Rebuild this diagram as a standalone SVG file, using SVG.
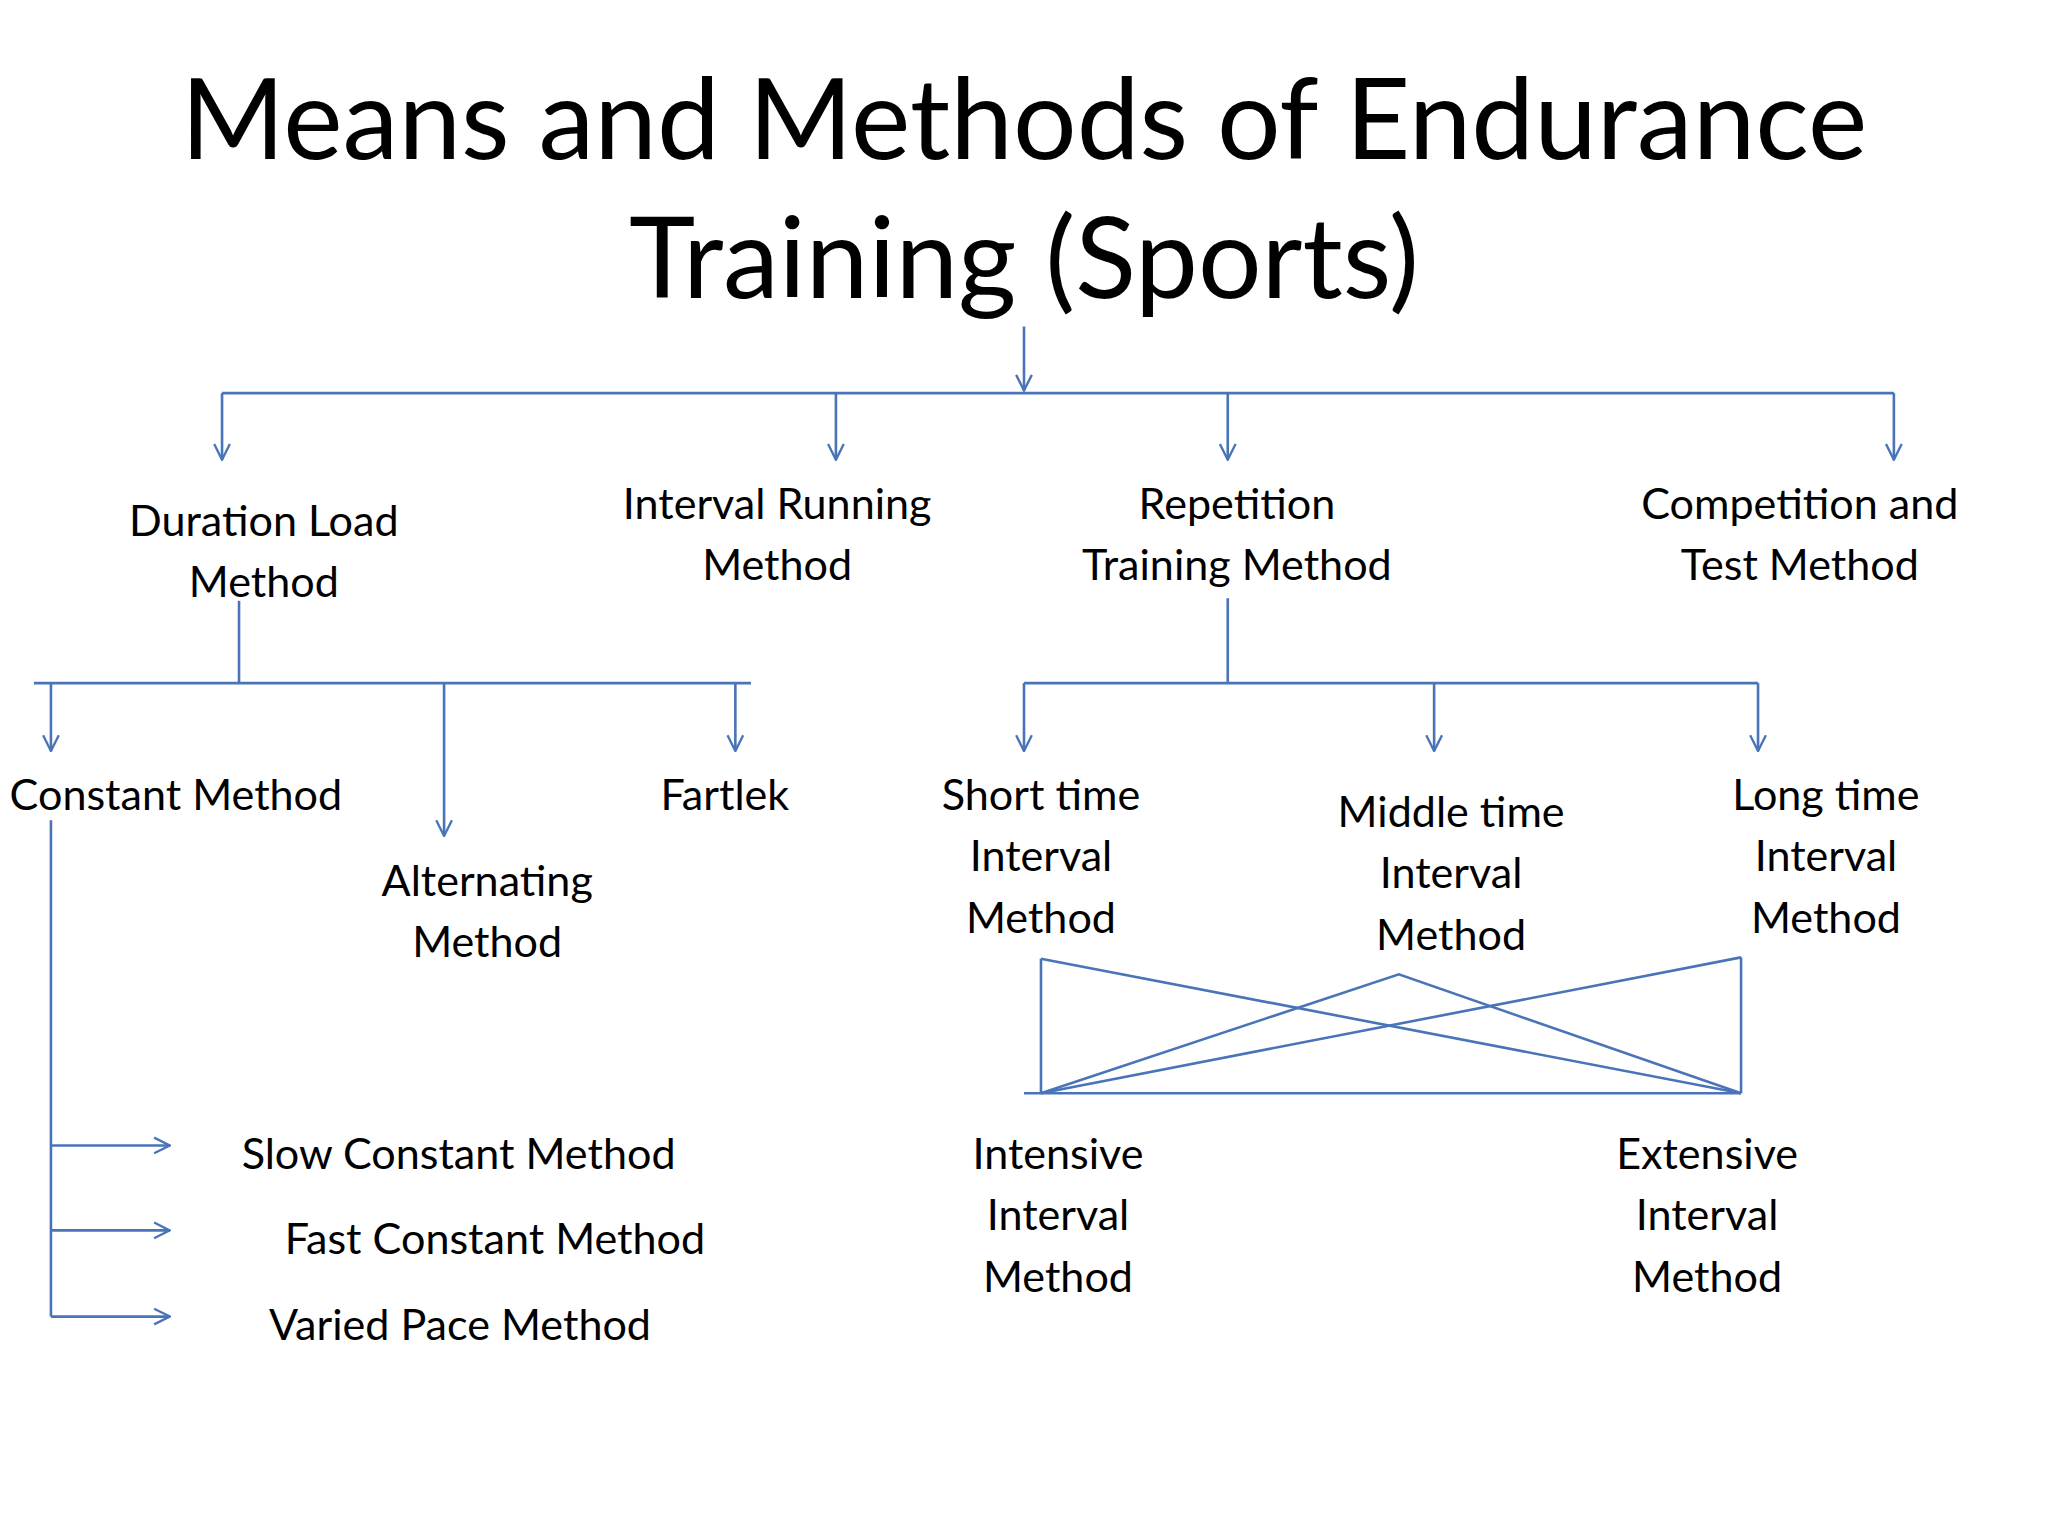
<svg xmlns="http://www.w3.org/2000/svg" width="2048" height="1536" viewBox="0 0 2048 1536">
<defs>
<style>
.t{font-family:Lato,"Open Sans",sans-serif;font-size:33px;fill:#000;text-anchor:middle}
.ttl{font-family:Lato,"Open Sans",sans-serif;font-size:86px;fill:#000;text-anchor:middle}
.c line,.c polyline{stroke:#4a74b8;stroke-width:2;fill:none}
</style>
<marker id="a" viewBox="0 0 14 14" refX="13" refY="7" markerWidth="14" markerHeight="14" markerUnits="userSpaceOnUse" orient="auto"><polyline points="1,1 13,7 1,13" fill="none" stroke="#4a74b8" stroke-width="1.8"/></marker>
</defs>
<rect width="2048" height="1536" fill="#fff"/>
<g transform="scale(1.30612)">
<g id="title"><text class="ttl" x="784" y="122">Means and Methods of Endurance</text><text class="ttl" x="784" y="228">Training (Sports)</text></g>
<g class="c" id="connectors">
<line x1="784" y1="250" x2="784" y2="299" marker-end="url(#a)"/>
<line x1="170" y1="301" x2="1450" y2="301"/>
<line x1="170" y1="301" x2="170" y2="352" marker-end="url(#a)"/>
<line x1="640" y1="301" x2="640" y2="352" marker-end="url(#a)"/>
<line x1="940" y1="301" x2="940" y2="352" marker-end="url(#a)"/>
<line x1="1450" y1="301" x2="1450" y2="352" marker-end="url(#a)"/>
<line x1="183" y1="460" x2="183" y2="523"/>
<line x1="26" y1="523" x2="575" y2="523"/>
<line x1="39" y1="523" x2="39" y2="575" marker-end="url(#a)"/>
<line x1="340" y1="523" x2="340" y2="640" marker-end="url(#a)"/>
<line x1="563" y1="523" x2="563" y2="575" marker-end="url(#a)"/>
<line x1="39" y1="628" x2="39" y2="1008"/>
<line x1="39" y1="877" x2="130" y2="877" marker-end="url(#a)"/>
<line x1="39" y1="942" x2="130" y2="942" marker-end="url(#a)"/>
<line x1="39" y1="1008" x2="130" y2="1008" marker-end="url(#a)"/>
<line x1="940" y1="458" x2="940" y2="523"/>
<line x1="784" y1="523" x2="1346" y2="523"/>
<line x1="784" y1="523" x2="784" y2="575" marker-end="url(#a)"/>
<line x1="1098" y1="523" x2="1098" y2="575" marker-end="url(#a)"/>
<line x1="1346" y1="523" x2="1346" y2="575" marker-end="url(#a)"/>
<line x1="797" y1="734" x2="797" y2="837"/>
<line x1="1333" y1="733" x2="1333" y2="837"/>
<line x1="784" y1="837" x2="1333" y2="837"/>
<line x1="797" y1="734" x2="1333" y2="837"/>
<polyline points="797,837 1071,746 1333,837"/>
<line x1="1333" y1="733" x2="797" y2="837"/>
</g>
<g id="n1"><text class="t" x="202" y="410">Duration Load</text><text class="t" x="202" y="457">Method</text></g>
<g id="n2"><text class="t" x="595" y="397">Interval Running</text><text class="t" x="595" y="444">Method</text></g>
<g id="n3"><text class="t" x="947" y="397">Repetition</text><text class="t" x="947" y="444">Training Method</text></g>
<g id="n4"><text class="t" x="1378" y="397">Competition and</text><text class="t" x="1378" y="444">Test Method</text></g>
<g id="n5"><text class="t" x="262" y="620" style="text-anchor:end">Constant Method</text></g>
<g id="n6"><text class="t" x="373" y="686">Alternating</text><text class="t" x="373" y="733">Method</text></g>
<g id="n7"><text class="t" x="555" y="620">Fartlek</text></g>
<g id="n8"><text class="t" x="185" y="895" style="text-anchor:start">Slow Constant Method</text></g>
<g id="n9"><text class="t" x="218" y="960" style="text-anchor:start">Fast Constant Method</text></g>
<g id="n10"><text class="t" x="206" y="1026" style="text-anchor:start">Varied Pace Method</text></g>
<g id="n11"><text class="t" x="797" y="620">Short time</text><text class="t" x="797" y="667">Interval</text><text class="t" x="797" y="714">Method</text></g>
<g id="n12"><text class="t" x="1111" y="633">Middle time</text><text class="t" x="1111" y="680">Interval</text><text class="t" x="1111" y="727">Method</text></g>
<g id="n13"><text class="t" x="1398" y="620">Long time</text><text class="t" x="1398" y="667">Interval</text><text class="t" x="1398" y="714">Method</text></g>
<g id="n14"><text class="t" x="810" y="895">Intensive</text><text class="t" x="810" y="942">Interval</text><text class="t" x="810" y="989">Method</text></g>
<g id="n15"><text class="t" x="1307" y="895">Extensive</text><text class="t" x="1307" y="942">Interval</text><text class="t" x="1307" y="989">Method</text></g>
</g>
</svg>
